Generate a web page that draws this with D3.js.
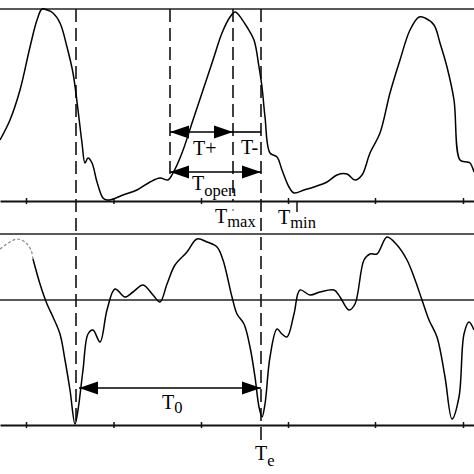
<!DOCTYPE html>
<html><head><meta charset="utf-8">
<script src="https://cdn.jsdelivr.net/npm/d3@7"></script>
<style>html,body{margin:0;padding:0;background:#fff}svg{display:block}</style>
</head><body><svg id="c" width="474" height="474"></svg>
<script>
// time in samples, glottal flow amplitude (upper trace)
const flowTime  = [0,10,20,30,37,42,47,53,60,67,73,78,82,85,88,92,97,103,107,113,123,137,150,160,168,173,182,193,203,213,222,230,235,237,247,254,259,262,265,270,277,282,289,294,304,314,327,337,347,355,362,370,380,390,400,410,419,425,434,440,447,454,460,467,470,474];
const flowValue = [61,81,111,154,181,192,191,188,178,154,128,91,58,38,43,38,19,3,1,2,6,11,19,23,21,28,48,81,111,141,168,184,189,188,174,161,134,114,84,48,44,31,14,8,11,14,19,26,27,21,26,48,68,108,141,171,184,183,176,158,134,101,41,39,38,29];
// flow derivative (lower trace), faint leading part and main part
const derivPreTime  = [0,10,17,25,31,33];
const derivPreValue = [51,58,61,58,50,41];
const derivTime  = [33,40,47,53,60,65,70,75,78,83,88,93,100,107,115,125,133,143,153,160,167,175,187,197,207,217,223,232,237,244,250,255,259,262,265,270,277,282,287,294,300,310,320,334,340,349,355,364,370,377,387,397,407,414,422,429,437,445,452,459,464,469,474];
const derivValue = [41,16,-4,-17,-34,-60,-90,-124,-110,-70,-34,-30,-42,-10,11,3,8,15,5,-2,16,35,48,61,58,53,40,3,-14,-24,-47,-77,-107,-117,-104,-57,-29,-34,-37,-14,10,5,8,10,3,-10,-4,40,46,46,63,55,40,23,0,-20,-37,-77,-119,-97,-34,-22,-30];
const tickTimes = [26,113.5,201,288,375,463];
const flowRefLevels  = [192];
const derivRefLevels = [66,0];
// event instants
const tStart = 76, tOpen = 170, tMax = 233, tE = 261, tMin = 297;

const svg = d3.select("#c");
const x  = d3.scaleLinear().domain([0,474]).range([0,474]);
const yF = d3.scaleLinear().domain([0,192]).range([201,9]);
const yD = d3.scaleLinear().domain([-125,66]).range([425,234]);
const FONT = "'Liberation Serif','Times New Roman',serif";

// reference lines
flowRefLevels.forEach(v => svg.append("line").attr("x1",0).attr("x2",474)
  .attr("y1",yF(v)).attr("y2",yF(v)).attr("stroke","#222").attr("stroke-width",1.6));
derivRefLevels.forEach(v => svg.append("line").attr("x1",0).attr("x2",474)
  .attr("y1",yD(v)).attr("y2",yD(v)).attr("stroke","#222").attr("stroke-width",1.6));

// axes
function axis(yPos){
  const g = svg.append("g").attr("transform",`translate(0,${yPos})`)
    .call(d3.axisBottom(x).tickValues(tickTimes).tickSize(3).tickSizeOuter(0).tickFormat(""));
  g.select(".domain").attr("stroke","#111").attr("stroke-width",2);
  g.selectAll(".tick line").attr("y1",-3).attr("y2",3).attr("stroke","#111").attr("stroke-width",1.5);
}
axis(yF(0));
axis(yD(-125));

// dashed event lines
const dash = "13,6";
function vdash(t,y1,y2){
  svg.append("line").attr("x1",x(t)).attr("x2",x(t)).attr("y1",y1).attr("y2",y2)
    .attr("stroke","#111").attr("stroke-width",1.6).attr("stroke-dasharray",dash);
}
vdash(tStart, yF(192), yD(-125));
vdash(tOpen,  yF(192), yF(23));
vdash(tMax,   yF(192), yF(0));
vdash(tE,     yF(192), yD(-144));

// Tmin tick
svg.append("line").attr("x1",x(tMin)).attr("x2",x(tMin)).attr("y1",yF(0)).attr("y2",yF(-11))
  .attr("stroke","#111").attr("stroke-width",1.5);
svg.append("circle").attr("cx",x(tMax)).attr("cy",yF(-9)).attr("r",0.8).attr("fill","#333");

// waveforms
const line = d3.line().curve(d3.curveCatmullRom.alpha(0.5));
svg.append("path").attr("d", line(flowTime.map((t,i)=>[x(t),yF(flowValue[i])])))
  .attr("fill","none").attr("stroke","#000").attr("stroke-width",1.5);
svg.append("path").attr("d", line(derivPreTime.map((t,i)=>[x(t),yD(derivPreValue[i])])))
  .attr("fill","none").attr("stroke","#888").attr("stroke-width",1.2).attr("stroke-dasharray","3,2");
svg.append("path").attr("d", line(derivTime.map((t,i)=>[x(t),yD(derivValue[i])])))
  .attr("fill","none").attr("stroke","#000").attr("stroke-width",1.5);

// arrows
function head(tipX, y, dir){
  const L = 19, H = 6.5;
  svg.append("path").attr("d",`M${tipX},${y}L${tipX-dir*L},${y-H}L${tipX-dir*L},${y+H}Z`).attr("fill","#000");
}
function arrow(t1,t2,y,left,right){
  svg.append("line").attr("x1",x(t1)).attr("x2",x(t2)).attr("y1",y).attr("y2",y)
    .attr("stroke","#000").attr("stroke-width",1.6);
  if(left) head(x(t1),y,-1);
  if(right) head(x(t2),y,1);
}
arrow(tOpen, tMax, yF(69), true, true);
arrow(tMax, tE, yF(69), false, false);
arrow(tOpen, tE, yF(29), true, true);
arrow(tStart+3, tE, yD(-88), true, true);

// labels
function label(px, py, main, sub, subDy){
  const t = svg.append("text").attr("x",px).attr("y",py).attr("font-family",FONT).attr("fill","#000");
  t.append("tspan").attr("font-size",20).text(main);
  if(sub) t.append("tspan").attr("font-size",16.5).attr("dy",subDy).text(sub);
}
label(x(tOpen)+23, yF(46), "T+", null, 0);
label(x(tMax)+8,  yF(47), "T-", null, 0);
label(x(tOpen)+22, yF(11), "T", "open", 6);
label(x(tMax)-18, yF(-22), "T", "max", 4);
label(x(tMin)-19, yF(-23), "T", "min", 4);
label(x(tStart)+86, yD(-109), "T", "0", 4);
label(x(tE)-6, yD(-160), "T", "e", 6);
</script></body></html>
